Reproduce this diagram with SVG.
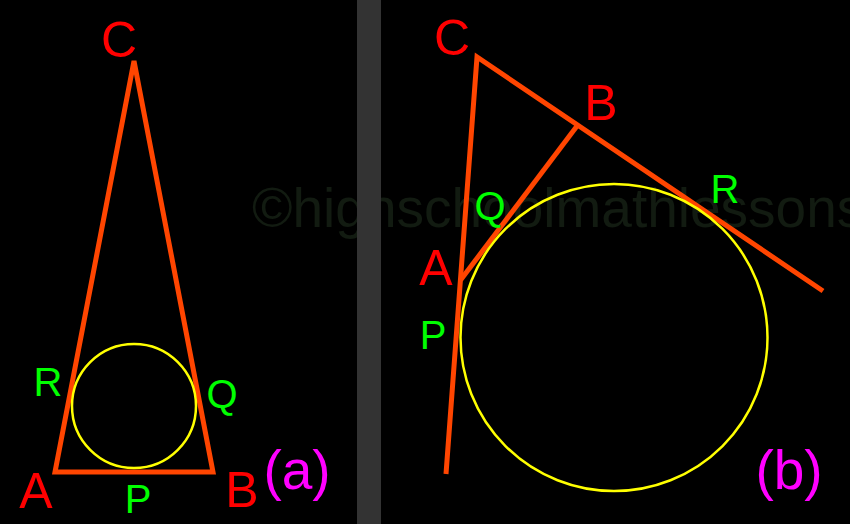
<svg xmlns="http://www.w3.org/2000/svg" width="850" height="524" viewBox="0 0 850 524">
<style>
.ln{stroke:#FF4500;stroke-width:5;fill:none;stroke-linejoin:miter;stroke-linecap:butt}
.cir{stroke:#FFFF00;stroke-width:2.5;fill:none}
.red{fill:#FF0000;font-family:"Liberation Sans",Arial,sans-serif;font-size:50px;text-anchor:middle}
.grn{fill:#00FF00;font-family:"Liberation Sans",Arial,sans-serif;font-size:40px;text-anchor:middle}
.mag{fill:#FF00FF;font-family:"Liberation Sans",Arial,sans-serif;font-size:55px;text-anchor:middle}
.wm{fill:#121b11;font-family:"Liberation Sans",Arial,sans-serif;font-size:55px}
</style>
<rect x="0" y="0" width="850" height="524" fill="#000000"/>
<text class="wm" x="252" y="227">©highschoolmathlessons</text>
<rect x="357" y="0" width="24" height="524" fill="#333333"/>
<g id="connectors">
<polygon class="ln" points="134,61 213,472 55,472"/>
<polyline class="ln" points="446,474 477,57 823,291"/>
<line class="ln" x1="460.6" y1="280" x2="577" y2="126"/>
</g>
<g id="figure-a">
<circle class="cir" cx="134" cy="406" r="62"/>
<text class="red" x="119" y="57">C</text>
<text class="red" x="36" y="508">A</text>
<text class="red" x="242" y="507">B</text>
<text class="grn" x="48" y="396">R</text>
<text class="grn" x="222" y="408">Q</text>
<text class="grn" x="138" y="513">P</text>
<text class="mag" x="297" y="489">(a)</text>
</g>
<g id="figure-b">
<circle class="cir" cx="614" cy="337.5" r="153.5"/>
<text class="red" x="452" y="55">C</text>
<text class="red" x="601" y="120">B</text>
<text class="red" x="436" y="285">A</text>
<text class="grn" x="490" y="220">Q</text>
<text class="grn" x="725" y="203">R</text>
<text class="grn" x="433" y="349">P</text>
<text class="mag" x="789" y="489">(b)</text>
</g>
</svg>
